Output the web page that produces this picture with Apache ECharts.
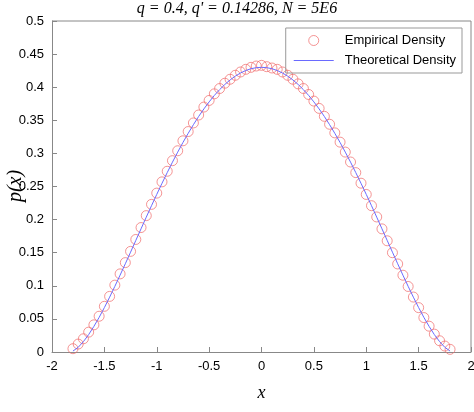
<!DOCTYPE html>
<html><head><meta charset="utf-8">
<script src="https://cdn.jsdelivr.net/npm/echarts@6/dist/echarts.min.js"></script>
<style>html,body{margin:0;background:#fff}#c{width:474px;height:412px}</style>
</head><body><div id="c"></div>
<script>
// half curve, x = 0, 0.05, ... 1.80 (mirrored for negative x)
const xHalf = [0,0.05,0.1,0.15,0.2,0.25,0.3,0.35,0.4,0.45,0.5,0.55,0.6,0.65,0.7,0.75,0.8,0.85,0.9,0.95,1.0,1.05,1.1,1.15,1.2,1.25,1.3,1.35,1.4,1.45,1.5,1.55,1.6,1.65,1.7,1.75,1.8];
const theoHalf = [0.430,0.4295,0.4279,0.4252,0.4215,0.4167,0.4109,0.4041,0.3963,0.3876,0.3778,0.3672,0.3558,0.3434,0.3303,0.3165,0.3019,0.2868,0.2710,0.2548,0.2381,0.2210,0.2037,0.1861,0.1685,0.1508,0.1333,0.1161,0.0992,0.0828,0.0671,0.0523,0.0387,0.0263,0.0157,0.0071,0.0014];
// empirical, x = -1.80 ... 1.80 step 0.05
const empX = [-1.8,-1.75,-1.7,-1.65,-1.6,-1.55,-1.5,-1.45,-1.4,-1.35,-1.3,-1.25,-1.2,-1.15,-1.1,-1.05,-1.0,-0.95,-0.9,-0.85,-0.8,-0.75,-0.7,-0.65,-0.6,-0.55,-0.5,-0.45,-0.4,-0.35,-0.3,-0.25,-0.2,-0.15,-0.1,-0.05,0,0.05,0.1,0.15,0.2,0.25,0.3,0.35,0.4,0.45,0.5,0.55,0.6,0.65,0.7,0.75,0.8,0.85,0.9,0.95,1.0,1.05,1.1,1.15,1.2,1.25,1.3,1.35,1.4,1.45,1.5,1.55,1.6,1.65,1.7,1.75,1.8];
const empY = [0.005,0.012,0.020,0.030,0.041,0.054,0.069,0.084,0.101,0.118,0.135,0.152,0.170,0.188,0.206,0.223,0.240,0.257,0.273,0.289,0.304,0.319,0.333,0.346,0.358,0.370,0.380,0.390,0.398,0.406,0.412,0.418,0.423,0.427,0.430,0.432,0.433,0.431,0.429,0.427,0.423,0.418,0.412,0.405,0.398,0.389,0.379,0.368,0.356,0.344,0.331,0.317,0.302,0.287,0.271,0.255,0.238,0.221,0.204,0.186,0.168,0.150,0.133,0.116,0.099,0.083,0.067,0.052,0.039,0.027,0.017,0.009,0.004];

const theo = [];
for (let i = xHalf.length - 1; i > 0; i--) theo.push([-xHalf[i], theoHalf[i]]);
for (let i = 0; i < xHalf.length; i++) theo.push([xHalf[i], theoHalf[i]]);
const emp = empX.map((x, i) => [x, empY[i]]);

const labelStyle = {color: '#000', fontFamily: 'Liberation Sans', fontSize: 13};
const nameStyle = {fontFamily: 'Liberation Serif', fontStyle: 'italic', fontSize: 18, color: '#000'};
const axisLine = {show: true, onZero: false, lineStyle: {color: '#888'}};
const axisTick = {inside: true, length: 5, lineStyle: {color: '#888'}};
const ring = {color: 'rgba(255,255,255,0)', borderColor: '#f06a6a', borderWidth: 0.9};

const chart = echarts.init(document.getElementById('c'));
chart.setOption({
  animation: false,
  title: {text: "q = 0.4, q' = 0.14286, N = 5E6", left: 'center', top: -4,
    textStyle: {fontFamily: 'Liberation Serif', fontStyle: 'italic', fontWeight: 'normal', fontSize: 16, color: '#000'}},
  grid: {left: 52, right: 3, top: 21, bottom: 60, containLabel: false, outerBoundsMode: 'none'},
  legend: {right: 12, top: 28, orient: 'vertical', borderColor: '#999', borderWidth: 1,
    padding: [6, 6, 6, 8], itemGap: 7, itemWidth: 40, itemHeight: 10,
    textStyle: {fontFamily: 'Liberation Sans', fontSize: 13, color: '#000', padding: [0, 0, 0, 6]},
    data: [{name: 'Empirical Density', icon: 'circle', itemStyle: ring},
           {name: 'Theoretical Density', icon: 'path://M0 0H40V1H0Z'}]},
  xAxis: {type: 'value', min: -2, max: 2, interval: 0.5,
    name: 'x', nameLocation: 'middle', nameGap: 32, nameTextStyle: nameStyle,
    axisLine: axisLine, axisTick: axisTick, splitLine: {show: false},
    axisLabel: Object.assign({formatter: v => String(v)}, labelStyle)},
  yAxis: {type: 'value', min: 0, max: 0.5, interval: 0.05,
    axisLine: axisLine, axisTick: axisTick, splitLine: {show: false},
    axisLabel: Object.assign({formatter: v => String(+v.toFixed(2))}, labelStyle)},
  series: [
    {name: 'Empirical Density', type: 'scatter', data: emp, symbol: 'circle', symbolSize: 10,
      itemStyle: ring, z: 2},
    {name: 'Theoretical Density', type: 'line', data: theo, showSymbol: false, symbol: 'none',
      lineStyle: {color: '#6a6aff', width: 1}, itemStyle: {color: '#6a6aff'}, z: 3}
  ],
  graphic: [
    {type: 'line', shape: {x1: 52, y1: 21, x2: 471, y2: 21}, style: {stroke: '#888'}},
    {type: 'line', shape: {x1: 471, y1: 21, x2: 471, y2: 352}, style: {stroke: '#888'}},
    {type: 'text', x: 16, y: 186, rotation: Math.PI / 2,
      style: {text: 'p(x)', fill: '#000', font: 'italic 20px "Liberation Serif"', align: 'center', verticalAlign: 'middle'}}
  ]
});
</script></body></html>
